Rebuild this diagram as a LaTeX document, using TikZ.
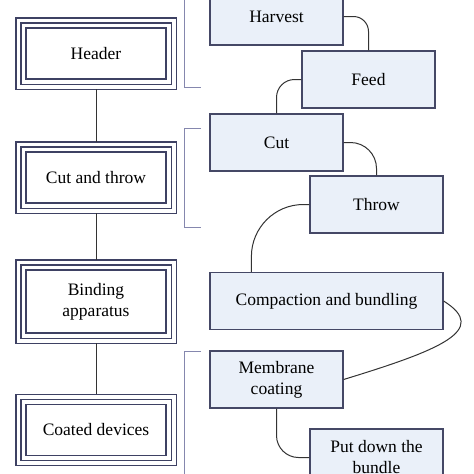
\documentclass[tikz,border=0pt]{standalone}
\usepackage{fontspec}
\setmainfont{Liberation Serif}
\usetikzlibrary{positioning,calc}
\definecolor{framec}{HTML}{3E4163}
\definecolor{stepfill}{HTML}{EAF0F9}
\definecolor{stepline}{HTML}{454866}
\definecolor{brackc}{HTML}{8587AE}

\begin{document}
\begin{tikzpicture}[
      x=1pt, y=-1pt,
      font=\fontsize{17.5}{21}\selectfont,
      stage/.style={draw=framec, line width=1.1pt, minimum width=140pt, minimum height=51pt,
                    inner sep=0pt, align=center},
      frame/.style={draw=framec, line width=1.1pt},
      stepbox/.style={draw=stepline, line width=1.2pt, fill=stepfill, minimum width=133pt,
                      minimum height=57pt, inner sep=0pt, align=center},
      wire/.style={draw=black!80, line width=1pt, rounded corners=#1},
      wire/.default=16pt,
      brack/.style={draw=brackc, line width=1pt}
    ]
    \clip (0,0) rectangle (474,474);

    \node[stage] (hdr)  at (96,53.5)  {Header};
    \node[stage] (ct)   at (96,177.5) {Cut and throw};
    \node[stage, minimum height=63pt] (bind) at (96,301.5) {Binding\\ apparatus};
    \node[stage] (coat) at (96,430)   {Coated devices};

    \foreach \n in {hdr,ct,bind,coat}
      \foreach \d in {4.5,9.5}
        \draw[frame] ([shift={(-\d,-\d)}]\n.north west) rectangle ([shift={(\d,\d)}]\n.south east);

    \draw[wire, shorten <=9.5pt, shorten >=9.5pt] (hdr.south) -- (ct.north);
    \draw[wire, shorten <=9.5pt, shorten >=9.5pt] (ct.south) -- (bind.north);
    \draw[wire, shorten <=9.5pt, shorten >=9.5pt] (bind.south) -- (coat.north);

    \draw[brack] (201,-5) -- (184,-5) -- (184,87) -- (201,87);
    \draw[brack] (201,128) -- (184,128) -- (184,227) -- (201,227);
    \draw[brack] (201,351) -- (184,351) -- (184,480);

    \node[stepbox] (hv) at (276.5,16.5)  {Harvest};
    \node[stepbox] (fd) at (368.5,79.5)  {Feed};
    \node[stepbox] (cu) at (276.5,142.5) {Cut};
    \node[stepbox] (th) at (376.5,204.5) {Throw};
    \node[stepbox, minimum width=233pt] (cb) at (326.5,301) {Compaction and bundling};
    \node[stepbox] (mb) at (276.5,379.5) {Membrane\\ coating};
    \node[stepbox] (pd) at (376.5,457.5) {Put down the\\ bundle};

    \coordinate (cbin) at ($(cb.north west)+(42,0)$);
    \draw[wire=15pt] (hv.east) -| (fd.north);
    \draw[wire=18pt] (fd.west) -| (cu.north);
    \draw[wire=26pt] (cu.east) -| (th.north);
    \draw[wire=52pt] (th.west) -| (cbin);
    \draw[wire] (cb.east) .. controls (490,330) and (440,350) .. (mb.east);
    \draw[wire=22pt] (mb.south) |- (pd.west);
  \end{tikzpicture}
\end{document}
